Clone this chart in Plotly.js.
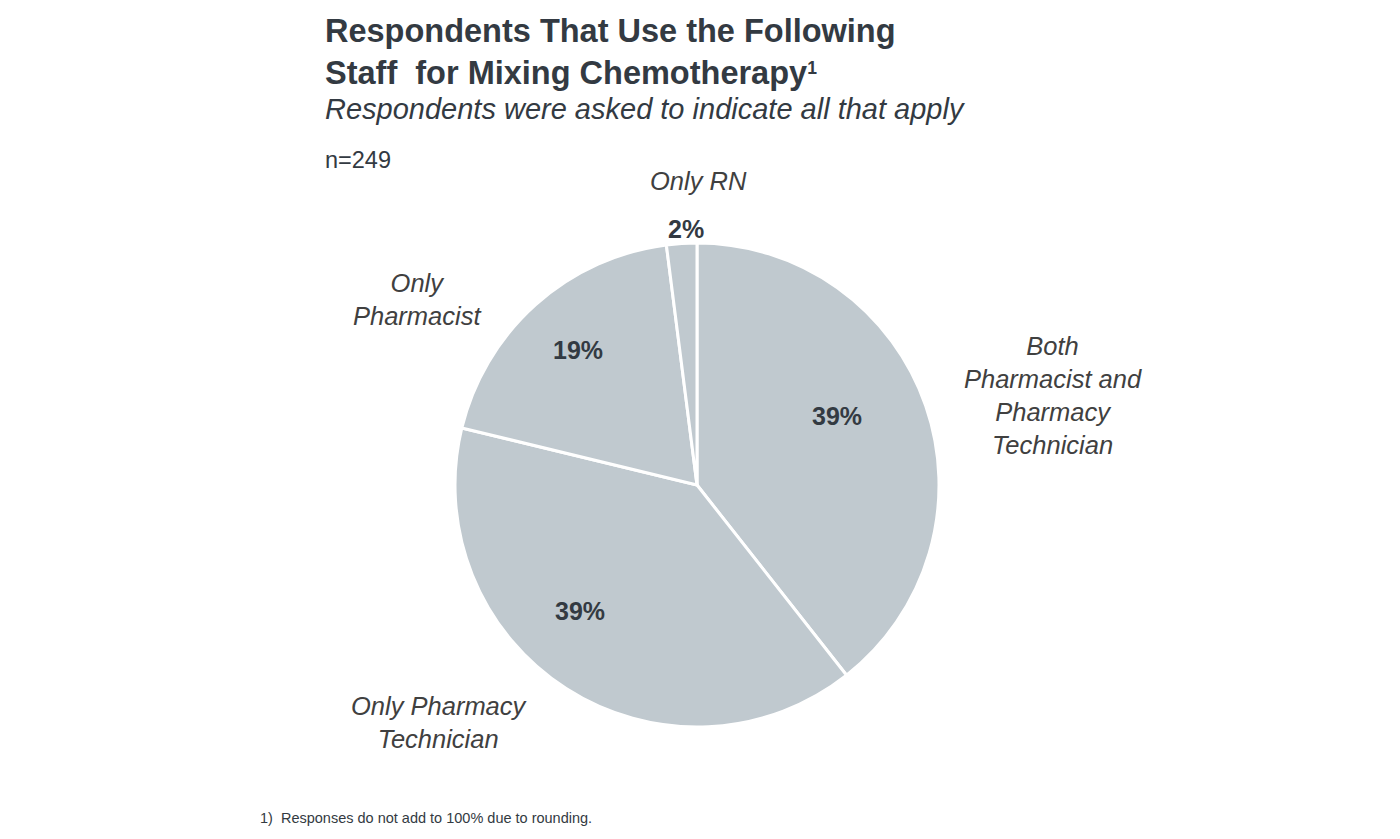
<!DOCTYPE html>
<html>
<head>
<meta charset="utf-8">
<script src="https://cdn.plot.ly/plotly-3.0.1.min.js"></script>
<style>html,body{margin:0;padding:0;background:#fff;}#chart{width:1400px;height:839px;}</style>
</head>
<body>
<div id="chart"></div>
<script>
const categories = ["Both Pharmacist and Pharmacy Technician", "Only Pharmacy Technician", "Only Pharmacist", "Only RN"];
const values = [39, 39, 19, 2];
const pctLabels = ["39%", "39%", "19%", "2%"];
const outsideLabels = ["Both<br>Pharmacist and<br>Pharmacy<br>Technician", "Only Pharmacy<br>Technician", "Only<br>Pharmacist", "Only RN"];

const W = 1400, H = 839;
const cx = 697, cy = 485, R = 242;
const FAMILY = 'Liberation Sans, Arial, sans-serif';

const trace = {
  type: 'pie',
  labels: categories,
  values: values,
  text: pctLabels,
  textinfo: 'none',
  sort: false,
  direction: 'clockwise',
  rotation: 0,
  hole: 0,
  marker: { colors: ['#C0C9CF', '#C0C9CF', '#C0C9CF', '#C0C9CF'], line: { color: '#FFFFFF', width: 3 } },
  domain: { x: [(cx - R) / W, (cx + R) / W], y: [(H - cy - R) / H, (H - cy + R) / H] },
  showlegend: false,
  hoverinfo: 'label+text'
};

const labelFont = { family: FAMILY, size: 25.5, color: '#404040' };
const pctFont = { family: FAMILY, size: 25, color: '#333A42' };
// label anchor positions (pixels)
const labelPos = [[1053, 395], [439, 722], [417, 299], [698, 181]];
const pctPos = [[837, 416], [580, 611], [578, 350], [686, 229]];

const px = (p) => ({ x: p[0] / W, y: 1 - p[1] / H, xref: 'paper', yref: 'paper', showarrow: false });

const annotations = [];
labelPos.forEach((p, i) => annotations.push(Object.assign(px(p), {
  text: '<i>' + outsideLabels[i] + '</i>', xanchor: 'center', yanchor: 'middle',
  font: labelFont, align: 'center'
})));
pctPos.forEach((p, i) => annotations.push(Object.assign(px(p), {
  text: '<b>' + pctLabels[i] + '</b>', xanchor: 'center', yanchor: 'middle', font: pctFont
})));

annotations.push(Object.assign(px([323, 52]), {
  text: '<b>Respondents That Use the Following<br>Staff  for Mixing Chemotherapy<span style="font-size:25px"><sup>1</sup></span></b>',
  xanchor: 'left', yanchor: 'middle', align: 'left',
  font: { family: FAMILY, size: 32.5, color: '#333A42' }
}));
annotations.push(Object.assign(px([323, 109]), {
  text: '<i>Respondents were asked to indicate all that apply</i>',
  xanchor: 'left', yanchor: 'middle',
  font: { family: FAMILY, size: 29, color: '#333A42' }
}));
annotations.push(Object.assign(px([323, 160]), {
  text: 'n=249', xanchor: 'left', yanchor: 'middle',
  font: { family: FAMILY, size: 23.5, color: '#333A42' }
}));
annotations.push(Object.assign(px([258, 818]), {
  text: '1)  Responses do not add to 100% due to rounding.', xanchor: 'left', yanchor: 'middle',
  font: { family: FAMILY, size: 14.5, color: '#333A42' }
}));

const layout = {
  width: W, height: H,
  margin: { l: 0, r: 0, t: 0, b: 0 },
  paper_bgcolor: '#FFFFFF',
  plot_bgcolor: '#FFFFFF',
  annotations: annotations
};

Plotly.newPlot('chart', [trace], layout, { displayModeBar: false, staticPlot: true });
</script>
</body>
</html>
